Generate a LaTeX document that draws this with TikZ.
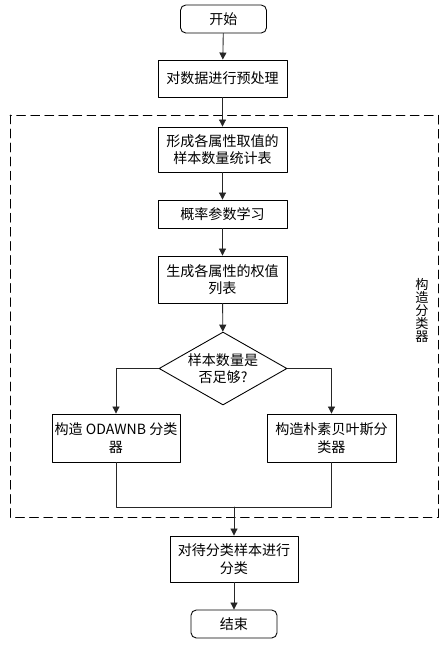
\documentclass[tikz,border=0pt]{standalone}
\usepackage{fontspec}
\newfontfamily\cjk{Noto Sans CJK SC}
\usetikzlibrary{arrows.meta,shapes.geometric}

\begin{document}
\begin{tikzpicture}[
    x=0.02cm, y=-0.02cm,
    font=\cjk\fontsize{8}{10}\selectfont,
    line cap=round,
    line join=round,
    >={Triangle[length=4pt,width=4pt]},   % arrow tip style
    line width=0.5pt,
    stepbox/.style={draw, rectangle, align=center, inner sep=1pt,
                    minimum width=2.58cm},
    termbox/.style={draw, rectangle, rounded corners=3pt, inner sep=1pt,
                    minimum width=1.72cm, minimum height=0.56cm},
    flow/.style={->, draw=black!85}
]
\useasboundingbox (0,0) rectangle (448,647);

%-----------------------
% 1) START AND PREPROCESSING
%-----------------------
\node[termbox] (start) at (223.5,19) {开始};
\node[stepbox, minimum height=0.74cm] (prep) at (222.5,78.5) {对数据进行预处理};

%-----------------------
% 2) CLASSIFIER CONSTRUCTION (dashed frame)
%-----------------------
\draw[dash pattern=on 5pt off 3pt] (10,115) rectangle (438,517);
\node[align=center, font=\cjk\fontsize{7.5}{7.4}\selectfont] (frame) at (422,310)
  {构\\造\\分\\类\\器};

\node[stepbox, minimum height=0.9cm] (stat) at (222.5,149.5) {形成各属性取值的\\样本数量统计表};
\node[stepbox, minimum height=0.56cm] (learn) at (222.5,214) {概率参数学习};
\node[stepbox, minimum height=0.94cm] (weight) at (222.5,279.5) {生成各属性的权值\\列表};

% decision: the diamond keeps its fixed size, the question sits on top
\node[draw, diamond, inner sep=0pt,
      minimum width=2.56cm, minimum height=1.46cm] (enough) at (223,368.5) {};
\node[align=center] (question) at (enough.center) {样本数量是\\否足够?};

\node[stepbox, minimum width=2.56cm, minimum height=0.96cm] (odawnb) at (116,438)
  {构造 ODAWNB 分类\\器};
\node[stepbox, minimum height=0.96cm] (bayes) at (331.5,438)
  {构造朴素贝叶斯分\\类器};

%-----------------------
% 3) CLASSIFICATION AND END
%-----------------------
\coordinate (merge) at (234,507);
\node[stepbox, minimum width=2.56cm, minimum height=0.92cm] (classify) at (234,559)
  {对待分类样本进行\\分类};
\node[termbox] (end) at (234,624) {结束};

%-----------------------
% 4) CONNECTORS
%-----------------------
\draw[flow] (start) -- (prep);
\draw[flow] (prep) -- (stat);
\draw[flow] (stat) -- (learn);
\draw[flow] (learn) -- (weight);
\draw[flow] (weight) -- (enough);
\draw[flow] (enough.west) -| (odawnb.north);
\draw[flow] (enough.east) -| (bayes.north);
\draw[draw=black!85] (odawnb.south) |- (merge);
\draw[draw=black!85] (bayes.south) |- (merge);
\draw[flow] (merge) -- (classify);
\draw[flow] (classify) -- (end);

\end{tikzpicture}
\end{document}
